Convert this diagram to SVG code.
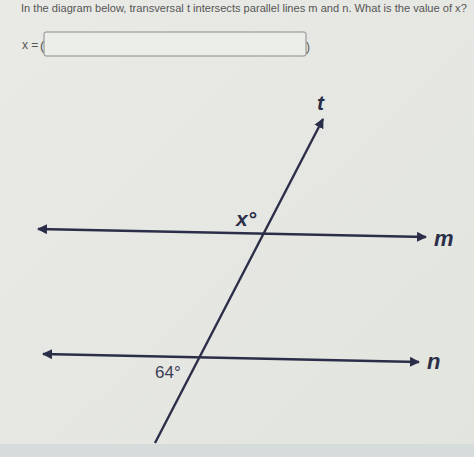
<svg xmlns="http://www.w3.org/2000/svg" width="474" height="457" viewBox="0 0 474 457">
<defs>
<marker id="ah" viewBox="0 0 10 10" refX="9" refY="5" markerWidth="10" markerHeight="10" markerUnits="userSpaceOnUse" orient="auto-start-reverse">
<path d="M0,0 L10,5 L0,10 Z" fill="#2b2e48"/>
</marker>
<linearGradient id="bg" x1="0" y1="0" x2="1" y2="1">
<stop offset="0" stop-color="#e9eae6"/>
<stop offset="1" stop-color="#e2e4de"/>
</linearGradient>
</defs>
<style>
.ln{stroke:#2b2e48;stroke-width:2.4;fill:none}
.lbl{font-family:"Liberation Sans",Arial,sans-serif;font-weight:bold;font-style:italic;fill:#2b2e48}
.q{font-family:"Liberation Sans",Arial,sans-serif;fill:#555}
</style>
<rect width="474" height="457" fill="url(#bg)"/>
<rect x="0" y="444" width="474" height="13" fill="#d6dcdc"/>
<text class="q" x="21" y="12" font-size="11.1">In the diagram below, transversal t intersects parallel lines m and n.  What is the value of x?</text>
<g id="answer">
<text class="q" x="22" y="49" font-size="12">x =</text>
<text class="q" x="40" y="50" font-size="13">(</text>
<rect x="44" y="32" width="262" height="24" rx="2" fill="#eceeea" stroke="#8a8c8c" stroke-width="1"/>
<text class="q" x="306" y="51" font-size="12">)</text>
</g>
<g id="connectors">
<line id="m" class="ln" x1="38" y1="229" x2="426" y2="237" marker-start="url(#ah)" marker-end="url(#ah)"/>
<line id="n" class="ln" x1="43" y1="354" x2="419" y2="362" marker-start="url(#ah)" marker-end="url(#ah)"/>
<line id="t" class="ln" x1="155" y1="443" x2="323" y2="119" marker-end="url(#ah)"/>
</g>
<g id="labels">
<text class="lbl" x="317" y="110" font-size="21">t</text>
<text class="lbl" x="236" y="226" font-size="21">x°</text>
<text class="lbl" x="434" y="246" font-size="22">m</text>
<text class="lbl" x="427" y="369" font-size="22">n</text>
<text class="q" x="155" y="378" font-size="17" style="fill:#3c3f55">64°</text>
</g>
</svg>
